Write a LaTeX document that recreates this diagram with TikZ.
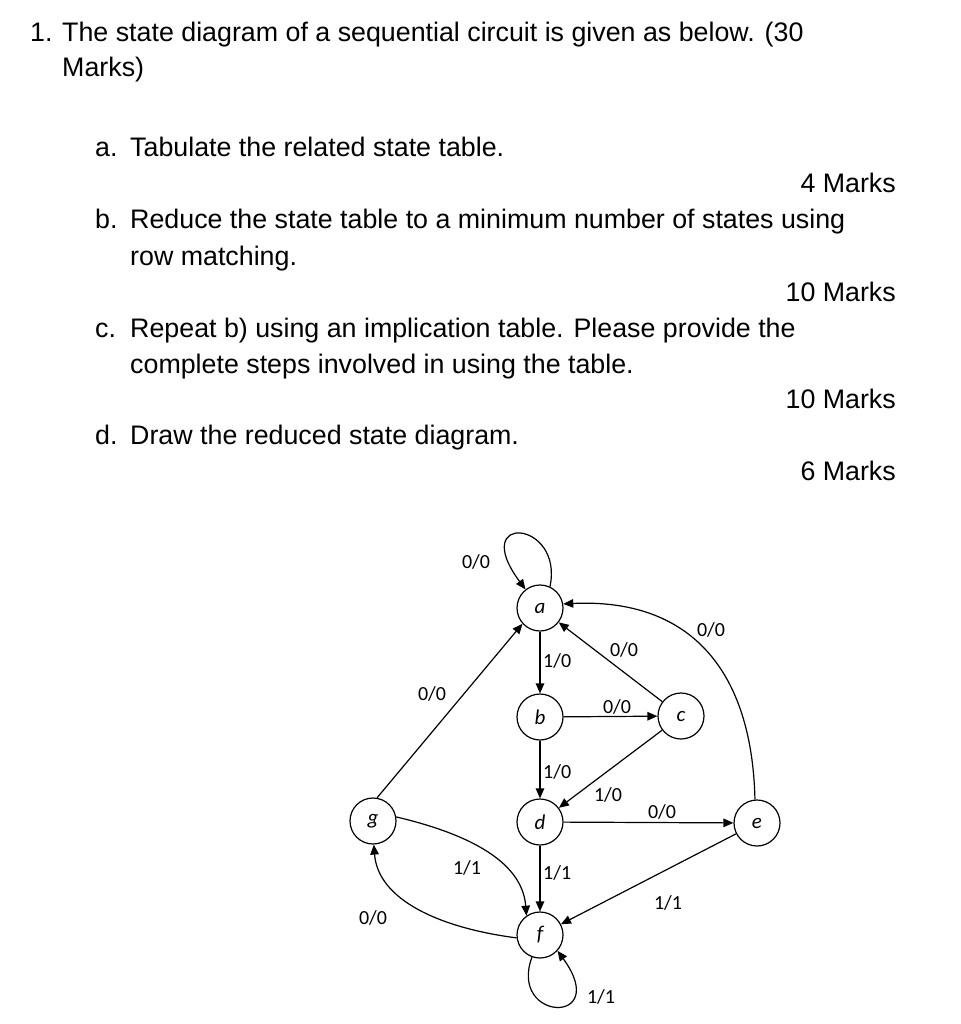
\documentclass[tikz,border=0pt]{standalone}
\usepackage{fontspec}
\setmainfont{Liberation Sans}
\newfontfamily\labfont{Carlito}
\usetikzlibrary{arrows.meta}
\tikzset{
  txt/.style={anchor=base west, inner sep=0pt, font=\fontsize{26.8}{32}\selectfont},
  txtr/.style={anchor=base east, inner sep=0pt, font=\fontsize{26.8}{32}\selectfont},
  state/.style={circle, draw, line width=1.2pt, minimum size=46pt, inner sep=0pt, font=\labfont\itshape\fontsize{21}{24}\selectfont},
  lab/.style={inner sep=0pt, font=\labfont\fontsize{20}{23}\selectfont},
  arr/.style={line width=1.2pt, -{Triangle[length=10pt,width=8.5pt]}},
}
\begin{document}
\begin{tikzpicture}[x=1pt,y=-1pt]
\useasboundingbox (0,0) rectangle (960,1024);
% text
\node[txt] (t1n) at (30,42) {1.};
\node[txt] (t1) at (62,42) {The state diagram of a sequential circuit is given as below. (30};
\node[txt] (t2) at (62,77) {Marks)};
\node[txt] (tan) at (95,157) {a.};
\node[txt] (ta) at (130,157) {Tabulate the related state table.};
\node[txtr] (m1) at (896,193) {4 Marks};
\node[txt] (tbn) at (95,229) {b.};
\node[txt] (tb1) at (130,229) {Reduce the state table to a minimum number of states using};
\node[txt] (tb2) at (130,265) {row matching.};
\node[txtr] (m2) at (896,301) {10 Marks};
\node[txt] (tcn) at (95,337) {c.};
\node[txt] (tc1) at (130,337) {Repeat b) using an implication table. Please provide the};
\node[txt] (tc2) at (130,373) {complete steps involved in using the table.};
\node[txtr] (m3) at (896,408) {10 Marks};
\node[txt] (tdn) at (95,444) {d.};
\node[txt] (td) at (130,444) {Draw the reduced state diagram.};
\node[txtr] (m4) at (896,480) {6 Marks};
% states
\node[state] (a) at (540,608) {a};
\node[state] (b) at (540,717) {b};
\node[state] (c) at (681,716) {c};
\node[state] (d) at (540,822) {d};
\node[state] (e) at (757,823) {e};
\node[state] (g) at (373,821) {g};
\node[state] (f) at (540,935) {f};
% edges
\draw[arr] (a.65) .. controls (564,520) and (468,512) .. (a.128);
\node[lab] (l1) at (476,562) {0/0};
\draw[arr] (a) -- (b);
\node[lab, anchor=west] (l2) at (543,661) {1/0};
\draw[arr] (b) -- (c);
\node[lab] (l3) at (617,707) {0/0};
\draw[arr] (c) -- (a);
\node[lab] (l4) at (624,650) {0/0};
\draw[arr] (e.95) .. controls (752,670) and (690,598) .. (a.10);
\node[lab] (l5) at (711,630) {0/0};
\draw[arr] (b) -- (d);
\node[lab, anchor=west] (l6) at (543,772) {1/0};
\draw[arr] (c) -- (d);
\node[lab] (l7) at (608,795) {1/0};
\draw[arr] (d) -- (e);
\node[lab] (l8) at (662,812) {0/0};
\draw[arr] (d) -- (f);
\node[lab, anchor=west] (l9) at (543,873) {1/1};
\draw[arr] (e) -- (f);
\node[lab] (l10) at (668,903) {1/1};
\draw[arr] (g.80) -- (a.222);
\node[lab] (l11) at (432,694) {0/0};
\draw[arr] (g.10) .. controls (460,832) and (522,858) .. (f.125);
\node[lab] (l12) at (467,868) {1/1};
\draw[arr] (f.187) .. controls (440,928) and (378,900) .. (g.272);
\node[lab] (l13) at (373,918) {0/0};
\draw[arr] (f.250) .. controls (508,1022) and (612,1026) .. (f.-42);
\node[lab] (l14) at (601,997) {1/1};
\end{tikzpicture}
\end{document}
